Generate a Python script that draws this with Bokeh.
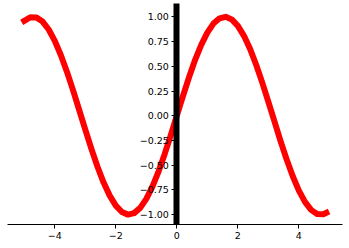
from bokeh.plotting import figure
from bokeh.models import FixedTicker, Range1d
from bokeh.embed import file_html
from bokeh.resources import INLINE

x_vals = [-5.0, -4.8, -4.6, -4.4, -4.2, -4.0, -3.8, -3.6, -3.4, -3.2,
          -3.0, -2.8, -2.6, -2.4, -2.2, -2.0, -1.8, -1.6, -1.4, -1.2,
          -1.0, -0.8, -0.6, -0.4, -0.2, 0.0, 0.2, 0.4, 0.6, 0.8,
          1.0, 1.2, 1.4, 1.6, 1.8, 2.0, 2.2, 2.4, 2.6, 2.8,
          3.0, 3.2, 3.4, 3.6, 3.8, 4.0, 4.2, 4.4, 4.6, 4.8, 4.9]
y_vals = [0.959, 0.996, 0.994, 0.952, 0.872, 0.757, 0.612, 0.443, 0.256, 0.058,
          -0.141, -0.335, -0.516, -0.676, -0.808, -0.909, -0.974, -1.000, -0.985, -0.932,
          -0.841, -0.717, -0.565, -0.389, -0.199, 0.000, 0.199, 0.389, 0.565, 0.717,
          0.841, 0.932, 0.985, 1.000, 0.974, 0.909, 0.808, 0.676, 0.516, 0.335,
          0.141, -0.058, -0.256, -0.443, -0.612, -0.757, -0.872, -0.952, -0.994, -0.996, -0.982]

x_ticks = [-4, -2, 0, 2, 4]
x_tick_labels = ["\u22124", "\u22122", "0", "2", "4"]
y_ticks = [-1.0, -0.75, -0.5, -0.25, 0.0, 0.25, 0.5, 0.75, 1.0]
y_tick_labels = ["\u22121.00", "\u22120.75", "\u22120.50", "\u22120.25", "0.00",
                 "0.25", "0.50", "0.75", "1.00"]

p = figure(width=349, height=248, output_backend="svg", toolbar_location=None,
           x_range=Range1d(-5.55, 5.43), y_range=Range1d(-1.1, 1.135),
           min_border_left=7, min_border_right=7, min_border_top=3, min_border_bottom=24)
p.outline_line_color = None
p.grid.visible = False
p.background_fill_color = "white"
p.border_fill_color = "white"

p.line(x_vals, y_vals, line_color="#ff0000", line_width=6, line_cap="square", line_join="round")

font = "DejaVu Sans"
xa = p.xaxis[0]
xa.ticker = FixedTicker(ticks=x_ticks)
xa.major_label_overrides = {t: l for t, l in zip(x_ticks, x_tick_labels)}
xa.axis_line_color = "black"
xa.axis_line_width = 1
xa.major_tick_line_color = "black"
xa.major_tick_in = 0
xa.major_tick_out = 4
xa.minor_tick_line_color = None
xa.major_label_standoff = 3
xa.major_label_text_font = font
xa.major_label_text_font_size = "9.5px"
xa.major_label_text_color = "black"

ya = p.yaxis[0]
ya.fixed_location = 0
ya.ticker = FixedTicker(ticks=y_ticks)
ya.major_label_overrides = {t: l for t, l in zip(y_ticks, y_tick_labels)}
ya.axis_line_color = "black"
ya.axis_line_width = 6
ya.axis_line_cap = "square"
ya.major_tick_line_color = "black"
ya.major_tick_in = 0
ya.major_tick_out = 5
ya.minor_tick_line_color = None
ya.major_label_standoff = 3
ya.major_label_text_font = font
ya.major_label_text_font_size = "9.5px"
ya.major_label_text_color = "black"

open("out.html", "w").write(file_html(p, INLINE))
